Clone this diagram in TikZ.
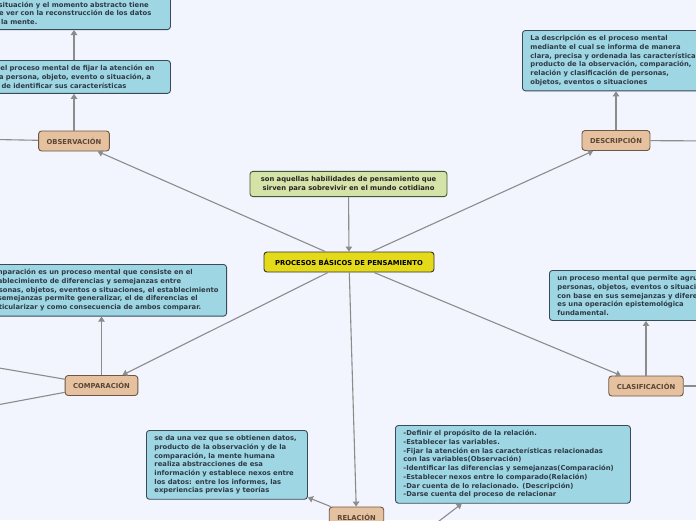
\documentclass[tikz,border=0pt]{standalone}
\usepackage{fontspec}
\setmainfont{DejaVu Sans}
\usetikzlibrary{arrows.meta}

\definecolor{bgmap}{HTML}{F2F5FD}
\definecolor{infofill}{HTML}{9FD6E3}
\definecolor{infoline}{HTML}{3A4A58}
\definecolor{topicfill}{HTML}{E6C19F}
\definecolor{topicline}{HTML}{6E5644}
\definecolor{topictext}{HTML}{5A4636}
\definecolor{mainfill}{HTML}{E5DA1A}
\definecolor{notefill}{HTML}{D5E2A8}
\definecolor{noteline}{HTML}{3E5A30}
\definecolor{linkgrey}{HTML}{8C8C8C}

\begin{document}
\begin{tikzpicture}[x=1pt, y=-1pt, >={Triangle[length=5pt,width=6.5pt]},
		every node/.style={font=\fontsize{6.8}{8.7}\selectfont\bfseries},
		info/.style={draw=infoline, fill=infofill, rounded corners=3pt, line width=0.9pt,
			align=left, inner xsep=8pt, inner ysep=5pt, text=infoline!80!black},
		topic/.style={draw=topicline, fill=topicfill, rounded corners=3pt, line width=0.9pt,
			inner xsep=8pt, minimum height=20pt, text=topictext},
		link/.style={draw=linkgrey, line width=1.1pt}]
		
		\useasboundingbox (0,0) rectangle (696,520);
		\clip (0,0) rectangle (696,520);
		\fill[bgmap] (0,0) rectangle (696,520);
		
		% Central idea
		\node[draw=black!80, fill=mainfill, rounded corners=3pt, line width=0.9pt,
			minimum width=170pt, minimum height=20pt] (proc) at (349,262)
			{PROCESOS BÁSICOS DE PENSAMIENTO};
		\node[draw=noteline, fill=notefill, rounded corners=3pt, line width=0.9pt,
			minimum width=197pt, align=center, inner ysep=5pt, text=black!85] (defn) at (348.5,184)
			{son aquellas habilidades de pensamiento que\\sirven para sobrevivir en el mundo cotidiano};
		\draw[link,->] (defn) -- (proc);
		
		% Topics
		\node[topic] (obs) at (74,141) {OBSERVACIÓN};
		\node[topic] (desc) at (616,140.5) {DESCRIPCIÓN};
		\node[topic] (comp) at (101.5,385.5) {COMPARACIÓN};
		\node[topic] (clas) at (646,386) {CLASIFICACIÓN};
		\node[topic] (rel) at (356.5,517) {RELACIÓN};
		
		\draw[link,->] (proc) -- (obs);
		\draw[link,->] (proc) -- (desc);
		\draw[link,->] (proc) -- (comp);
		\draw[link,->] (proc) -- (clas);
		\draw[link,->] (proc) -- (rel);
		
		% Observation
		\node[info, text width=173pt, anchor=north west] (obsinfo) at (-19,60)
			{Es el proceso mental de fijar la atención en\\una persona, objeto, evento o situación, a\\fin de identificar sus características};
		\node[info, text width=173pt, anchor=south west] (obsmore) at (-19,30)
			{la situación y el momento abstracto tiene\\que ver con la reconstrucción de los datos\\en la mente.};
		\draw[link,->] (obs.north) -- (obs.north |- obsinfo.south);
		\draw[link,->] (obs.north |- obsinfo.north) -- (obs.north |- obsmore.south);
		\coordinate (obsout) at (-30,139);
		\draw[link] (obs) -- (obsout);
		
		% Description
		\node[info, anchor=north west] (descinfo) at (522,30)
			{La descripción es el proceso mental\\mediante el cual se informa de manera\\clara, precisa y ordenada las características\\producto de la observación, comparación,\\relación y clasificación de personas,\\objetos, eventos o situaciones};
		\draw[link,->] (desc.north) -- (desc.north |- descinfo.south);
		\coordinate (descout) at (730,141);
		\draw[link] (desc) -- (descout);
		
		% Comparison
		\node[info, anchor=north east] (compinfo) at (227,264)
			{Comparación es un proceso mental que consiste en el\\establecimiento de diferencias y semejanzas entre\\personas, objetos, eventos o situaciones, el establecimiento\\de semejanzas permite generalizar, el de diferencias el\\particularizar y como consecuencia de ambos comparar.};
		\draw[link,->] (comp.north) -- (comp.north |- compinfo.south);
		\coordinate (compoutA) at (-30,363);
		\coordinate (compoutB) at (-30,410);
		\draw[link] (comp) -- (compoutA);
		\draw[link] (comp) -- (compoutB);
		
		% Classification
		\node[info, anchor=north west] (clasinfo) at (549,270)
			{un proceso mental que permite agrupar\\personas, objetos, eventos o situaciones\\con base en sus semejanzas y diferencias\\es una operación epistemológica\\fundamental.};
		\draw[link,->] (clas.north) -- (clas.north |- clasinfo.south);
		\coordinate (clasout) at (730,386);
		\draw[link] (clas) -- (clasout);
		
		% Relation
		\node[info, text width=145pt, anchor=north west] (relinfo) at (146,430)
			{se da una vez que se obtienen datos,\\producto de la observación y de la\\comparación, la mente humana\\realiza abstracciones de esa\\información y establece nexos entre\\los datos: entre los informes, las\\experiencias previas y teorías};
		\draw[link,->] (rel) -- (relinfo);
		\node[info, text width=219pt, anchor=north west] (relsteps) at (395,425)
			{-Definir el propósito de la relación.\\-Establecer las variables.\\-Fijar la atención en las características relacionadas\\con las variables(Observación)\\-Identificar las diferencias y semejanzas(Comparación)\\-Establecer nexos entre lo comparado(Relación)\\-Dar cuenta de lo relacionado. (Descripción)\\-Darse cuenta del proceso de relacionar};
		\coordinate (relsub) at (430,528);
		\draw[link,->] (relsub) -- (relsteps);
		
	\end{tikzpicture}
\end{document}
